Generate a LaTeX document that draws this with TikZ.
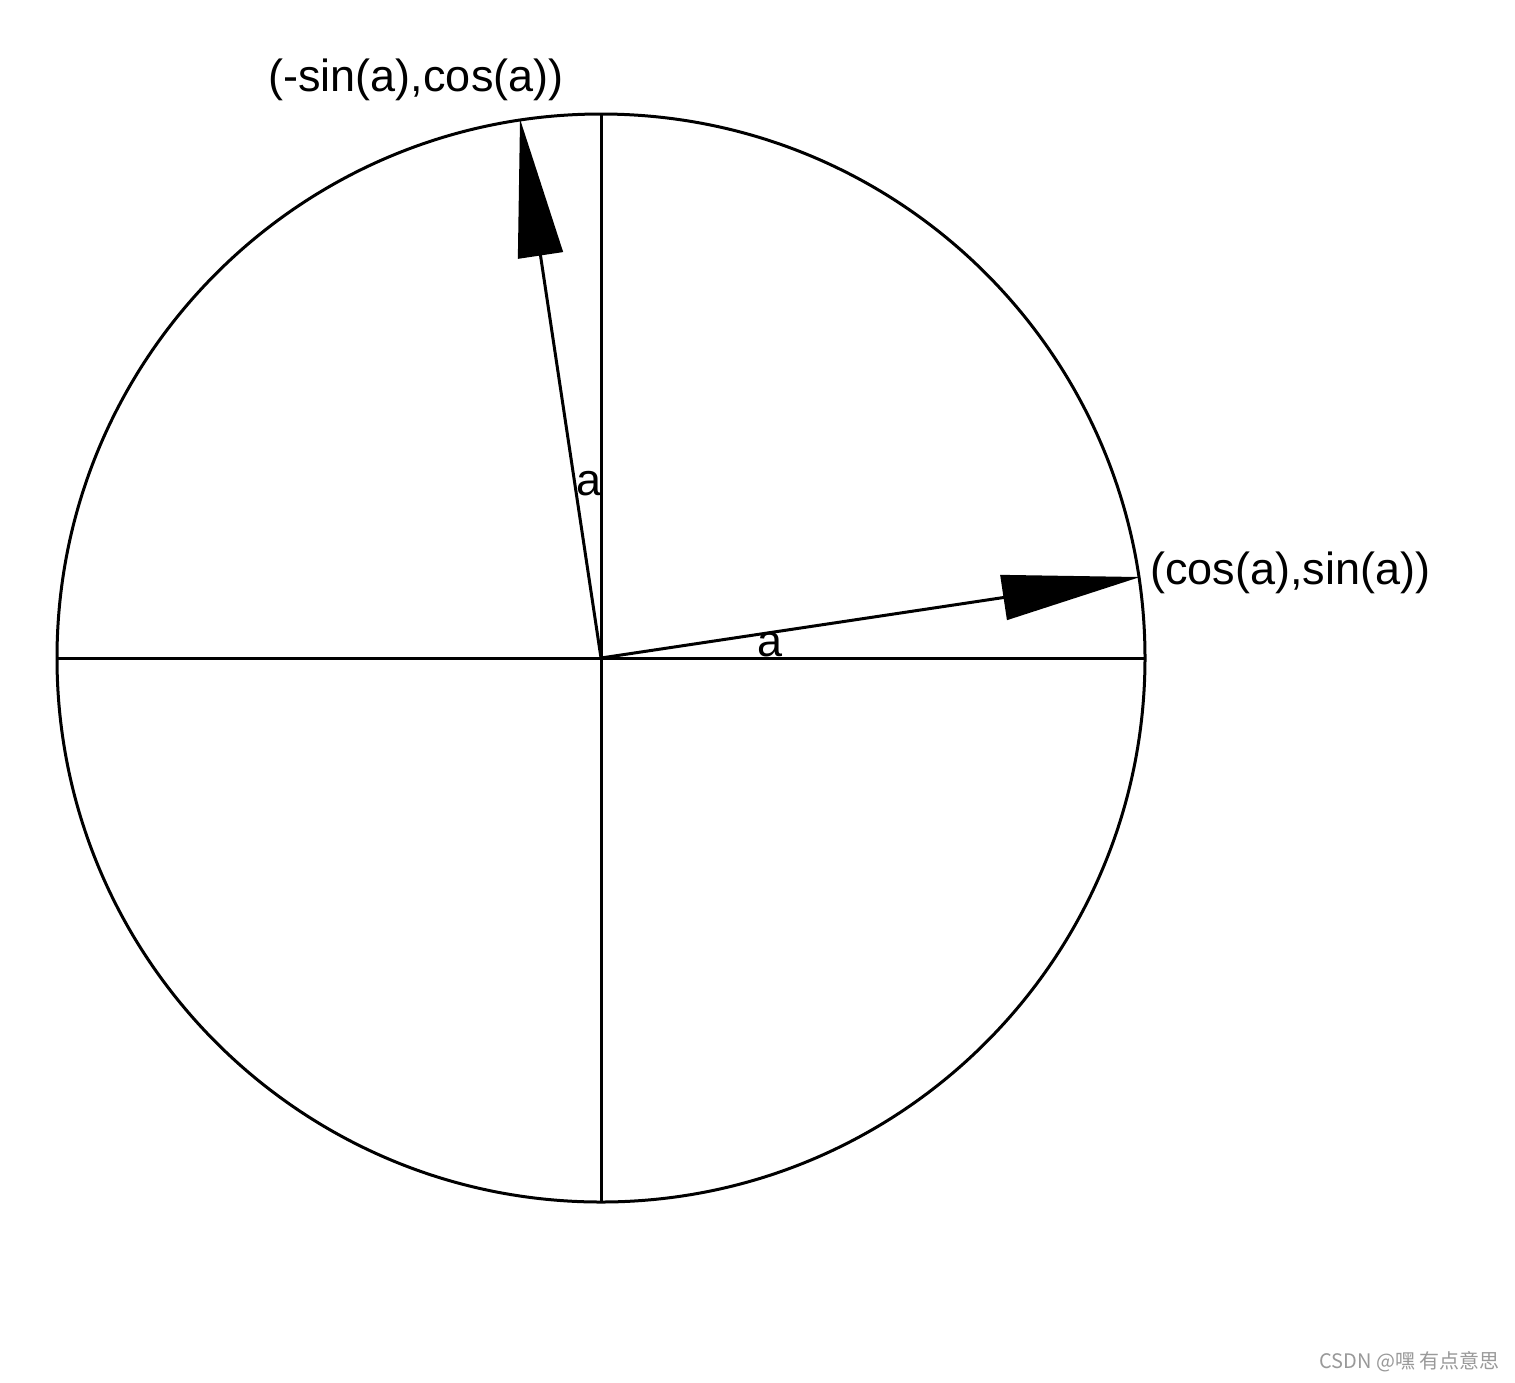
\documentclass[tikz,border=0pt]{standalone}
\usepackage{fontspec}
\setmainfont{Liberation Sans}
\newfontfamily\cjkfont{Noto Sans CJK SC}
\usetikzlibrary{arrows.meta}
\begin{document}
\begin{tikzpicture}[x=0.5pt,y=-0.5pt,
  ln/.style={line width=1.5pt, black},
  vec/.style={line width=1.5pt, black, -{Triangle[length=69pt,width=22.5pt]}},
  lbl/.style={font=\fontsize{22.5}{27}\selectfont, inner sep=0pt},
  wm/.style={font=\cjkfont\fontsize{10}{12}\selectfont, text=black!40, inner sep=0pt}]
\useasboundingbox[fill=white] (0,0) rectangle (1515,1382);
\coordinate (O) at (601,658);
\coordinate (L) at (57,658);
\coordinate (R) at (1145,658);
\coordinate (T) at (601,114);
\coordinate (B) at (601,1202);
\coordinate (P1) at (1140,577);
\coordinate (P2) at (520,119);
\draw[ln] (O) circle[radius=544];
\draw[ln] (L) -- (R);
\draw[ln] (T) -- (B);
\draw[vec] (O) -- (P1);
\draw[vec] (O) -- (P2);
\node[lbl, anchor=west] (t1) at (1150,573) {(cos(a),sin(a))};
\node[lbl] (t2) at (416,80) {(-sin(a),cos(a))};
\node[lbl] (a1) at (770,645) {a};
\node[lbl] (a2) at (589,484) {a};
\node[wm, anchor=east] (w) at (1500,1362) {CSDN @嘿 有点意思};
\end{tikzpicture}
\end{document}
